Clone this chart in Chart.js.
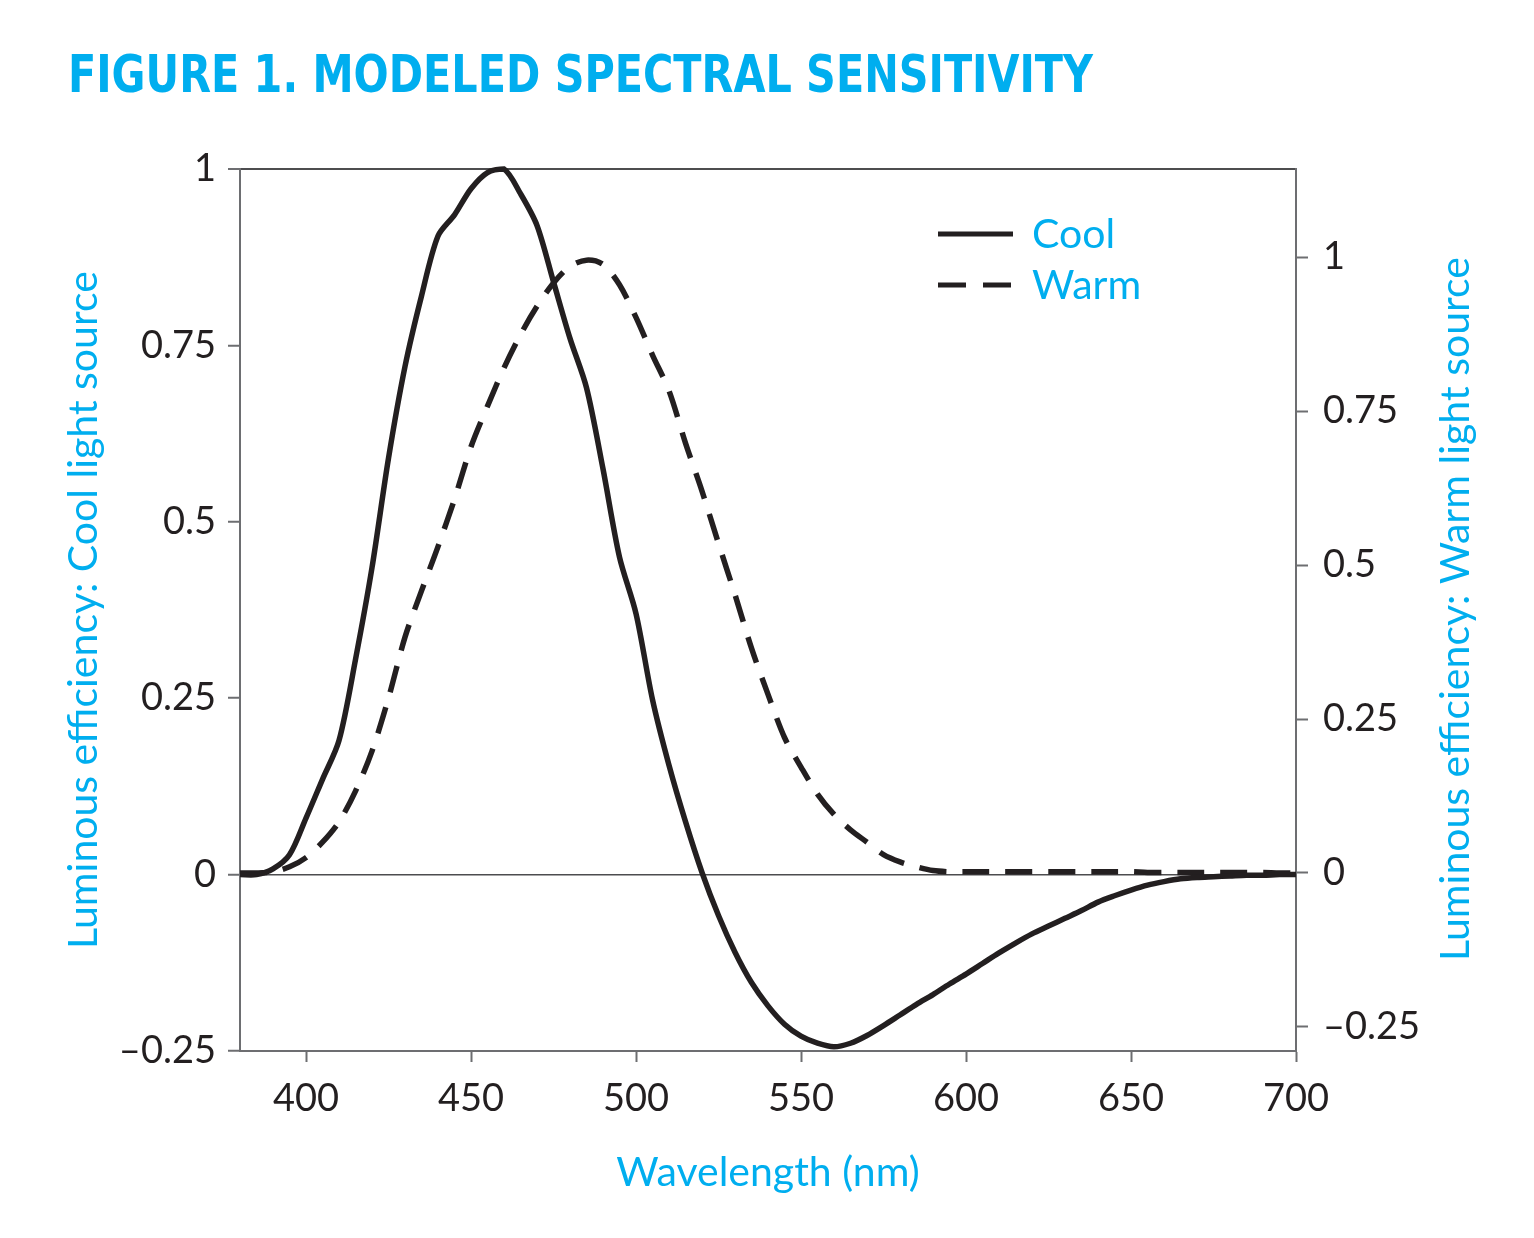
<!DOCTYPE html>
<html>
<head>
<meta charset="utf-8">
<script src="https://cdn.jsdelivr.net/npm/chart.js@4.4.1/dist/chart.umd.min.js"></script>
<style>
  html, body { margin: 0; padding: 0; background: #fff; }
  #wrap { width: 1534px; height: 1238px; position: relative; }
</style>
</head>
<body>
<div id="wrap"><canvas id="chart"></canvas></div>
<script>
// values, 5 nm steps
const wavelengths = [
  380, 385, 390, 395, 400, 405, 410, 415, 420, 425, 430, 435, 440, 445, 450, 455,
  460, 465, 470, 475, 480, 485, 490, 495, 500, 505, 510, 515, 520, 525, 530, 535,
  540, 545, 550, 555, 560, 565, 570, 575, 580, 585, 590, 595, 600, 605, 610, 615,
  620, 625, 630, 635, 640, 645, 650, 655, 660, 665, 670, 675, 680, 685, 690, 695, 700
];
const coolValues = [
  0.000, 0.000, 0.008, 0.028, 0.080, 0.135, 0.190, 0.305, 0.435, 0.590, 0.720, 0.820, 0.905, 0.935, 0.972, 0.995,
  1.000, 0.965, 0.920, 0.840, 0.760, 0.690, 0.575, 0.450, 0.370, 0.248, 0.155, 0.075, 0.003, -0.058, -0.110, -0.153,
  -0.186, -0.212, -0.229, -0.239, -0.244, -0.239, -0.228, -0.214, -0.199, -0.184, -0.170, -0.155, -0.141, -0.126, -0.111, -0.097,
  -0.084, -0.073, -0.062, -0.051, -0.039, -0.030, -0.022, -0.015, -0.010, -0.006, -0.004, -0.003, -0.002, -0.001, -0.001, 0.000, 0.000
];
const warmValues = [
  0.000, 0.000, 0.002, 0.010, 0.025, 0.050, 0.083, 0.133, 0.198, 0.284, 0.383, 0.458, 0.530, 0.607, 0.692, 0.758,
  0.820, 0.874, 0.920, 0.958, 0.985, 0.995, 0.988, 0.955, 0.902, 0.841, 0.783, 0.698, 0.620, 0.535, 0.452, 0.365,
  0.290, 0.220, 0.172, 0.128, 0.095, 0.070, 0.050, 0.030, 0.018, 0.010, 0.004, 0.002, 0.002, 0.002, 0.002, 0.002,
  0.002, 0.002, 0.002, 0.002, 0.002, 0.002, 0.002, 0.001, 0.001, 0.001, 0.001, 0.001, 0.001, 0.001, 0.001, 0.000, 0.000
];
const wavelengthTicks = [400, 450, 500, 550, 600, 650, 700];
const coolTicks = [-0.25, 0, 0.25, 0.5, 0.75, 1];
const warmTicks = [-0.25, 0, 0.25, 0.5, 0.75, 1];
const seriesNames = ['Cool', 'Warm'];

const CYAN = '#00aeef';
const INK = '#231f20';
const AXIS = '#6d6e71';
const FONT = 'Lato';

function fmt(v) {
  return v < 0 ? '\u2013' + Math.abs(v) : String(v);
}

function setTicks(list) {
  return axis => { axis.ticks = list.map(v => ({ value: v })); };
}

// heading, right-hand title (reads bottom to top) and the legend
const extras = {
  id: 'extras',
  afterDraw(chart) {
    const ctx = chart.ctx;
    ctx.save();

    ctx.fillStyle = CYAN;
    ctx.font = "bold 52px 'DejaVu Sans Condensed', 'DejaVu Sans'";
    ctx.textBaseline = 'alphabetic';
    ctx.textAlign = 'left';
    const heading = 'FIGURE 1. MODELED SPECTRAL SENSITIVITY';
    const sx = 1025 / ctx.measureText(heading).width;
    ctx.save();
    ctx.translate(68, 92);
    ctx.scale(sx, 1);
    ctx.fillText(heading, 0, 0);
    ctx.restore();

    ctx.font = '41px ' + FONT;
    ctx.save();
    ctx.translate(1456, 609);
    ctx.rotate(-Math.PI / 2);
    ctx.textAlign = 'center';
    ctx.textBaseline = 'middle';
    ctx.fillText('Luminous efficiency: Warm light source', 0, 0);
    ctx.restore();

    const rows = [{ y: 234, dash: [] }, { y: 285, dash: [28, 17] }];
    rows.forEach((r, i) => {
      ctx.strokeStyle = INK;
      ctx.lineWidth = 5;
      ctx.setLineDash(r.dash);
      ctx.beginPath();
      ctx.moveTo(938, r.y);
      ctx.lineTo(1013, r.y);
      ctx.stroke();
      ctx.setLineDash([]);
      ctx.fillStyle = CYAN;
      ctx.textAlign = 'left';
      ctx.textBaseline = 'middle';
      ctx.fillText(seriesNames[i], 1032, r.y + 1);
    });

    ctx.restore();
  }
};

new Chart(document.getElementById('chart'), {
  type: 'line',
  data: {
    datasets: [{
      label: seriesNames[0],
      data: wavelengths.map((w, i) => ({ x: w, y: coolValues[i] })),
      yAxisID: 'yCool',
      borderColor: INK,
      borderWidth: 5.5,
      pointRadius: 0,
      tension: 0.3,
      fill: false,
      clip: false
    }, {
      label: seriesNames[1],
      data: wavelengths.map((w, i) => ({ x: w, y: warmValues[i] })),
      yAxisID: 'yWarm',
      borderColor: INK,
      borderWidth: 5.5,
      borderDash: [27, 16],
      pointRadius: 0,
      tension: 0.3,
      fill: false,
      clip: false
    }]
  },
  options: {
    responsive: true,
    maintainAspectRatio: false,
    devicePixelRatio: 1,
    animation: false,
    layout: { padding: { top: 169, left: 0, right: 0, bottom: 0 } },
    plugins: {
      legend: { display: false },
      tooltip: { enabled: false }
    },
    scales: {
      x: {
        type: 'linear',
        min: 380,
        max: 700,
        afterBuildTicks: setTicks(wavelengthTicks),
        afterFit: s => { s.height = 187; },
        ticks: { color: INK, font: { family: FONT, size: 38 }, padding: 14, maxRotation: 0, autoSkip: false },
        grid: { drawOnChartArea: false, tickLength: 11, tickColor: AXIS, tickWidth: 2 },
        border: { color: AXIS, width: 2 },
        title: { display: true, text: 'Wavelength (nm)', color: CYAN, font: { family: FONT, size: 41 }, padding: { bottom: 41 } }
      },
      yCool: {
        position: 'left',
        min: -0.25,
        max: 1,
        afterBuildTicks: setTicks(coolTicks),
        afterFit: s => { s.width = 240; },
        ticks: { color: INK, font: { family: FONT, size: 38 }, padding: 12, callback: v => fmt(v) },
        grid: {
          drawOnChartArea: true,
          color: c => (c.tick && (c.tick.value === 0 || c.tick.value === 1)) ? '#4d4d4f' : 'rgba(0,0,0,0)',
          lineWidth: c => (c.tick && c.tick.value === 1) ? 2 : 1.5,
          tickLength: 12,
          tickColor: AXIS,
          tickWidth: 2
        },
        border: { color: AXIS, width: 2 },
        title: { display: true, text: 'Luminous efficiency: Cool light source', color: CYAN, font: { family: FONT, size: 41 }, padding: { top: 59 } }
      },
      yWarm: {
        position: 'right',
        min: -0.289,
        max: 1.143,
        afterBuildTicks: setTicks(warmTicks),
        afterFit: s => { s.width = 238; },
        ticks: { color: INK, font: { family: FONT, size: 38 }, padding: 15, callback: v => fmt(v) },
        grid: { drawOnChartArea: false, tickLength: 12, tickColor: AXIS, tickWidth: 2 },
        border: { color: AXIS, width: 2 },
        title: { display: false }
      }
    }
  },
  plugins: [extras]
});
</script>
</body>
</html>
